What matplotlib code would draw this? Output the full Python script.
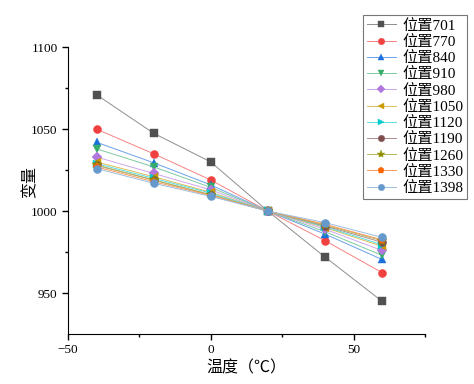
import matplotlib
matplotlib.use('Agg')
import matplotlib.pyplot as plt
from matplotlib.colors import to_rgb

plt.rcParams['font.family'] = ['Liberation Serif', 'Noto Sans CJK SC']

温度 = [-40, -20, 0, 20, 40, 60]
位置 = ['位置701', '位置770', '位置840', '位置910', '位置980', '位置1050',
      '位置1120', '位置1190', '位置1260', '位置1330', '位置1398']
数据 = [
    [1071, 1047.5, 1030, 1000, 972, 945],
    [1050, 1035, 1019, 1000, 982, 962.5],
    [1042, 1029.5, 1016, 1000, 986, 970.5],
    [1038, 1027, 1014.5, 1000, 987.5, 973],
    [1033, 1023, 1013, 1000, 989, 976],
    [1030, 1021, 1011.5, 1000, 990, 978.5],
    [1029, 1020, 1011, 1000, 990.5, 979.5],
    [1028, 1019, 1010, 1000, 991, 981],
    [1028, 1019, 1010, 1000, 991.5, 982],
    [1027, 1018, 1009.5, 1000, 992, 982.5],
    [1026, 1017, 1009, 1000, 993, 984],
]
颜色 = ['#515151', '#F14040', '#1A6FDF', '#37AD6B', '#B177DE', '#CC9900',
      '#00CBCC', '#7D4E4E', '#8E8E00', '#FB6501', '#6699CC']
标记 = ['s', 'o', '^', 'v', 'D', '<', '>', 'o', '*', 'p', 'o']


def 变浅(c, k=0.35):
    r, g, b = to_rgb(c)
    return (r + (1 - r) * k, g + (1 - g) * k, b + (1 - b) * k)


fig = plt.figure(figsize=(4.74, 3.84), dpi=100)
ax = fig.add_axes([0.1435, 0.130, 0.753, 0.747])

for y, lab, c, m in zip(数据, 位置, 颜色, 标记):
    ms = 4.8 if m == 'D' else 5.8
    if m == '*':
        ms = 7.5
    ax.plot(温度, y, color=变浅(c), lw=0.7, marker=m, ms=ms,
            markerfacecolor=c, markeredgecolor=c, markeredgewidth=0.3,
            label=lab)

ax.set_xlim(-50, 75)
ax.set_ylim(925, 1100)
ax.set_xticks([-50, 0, 50])
ax.set_xticks([-25, 25, 75], minor=True)
ax.set_yticks([950, 1000, 1050, 1100])
ax.set_yticks([975, 1025, 1075], minor=True)
ax.spines['top'].set_visible(False)
ax.spines['right'].set_visible(False)
ax.tick_params(axis='both', which='major', labelsize=9.5, length=4, width=1,
               direction='out')
ax.tick_params(axis='both', which='minor', length=2, width=1, direction='out')
ax.set_xticklabels(['−50', '0', '50'])

ax.set_xlabel('温度（℃）', fontsize=11.5, labelpad=3)
ax.set_ylabel('变量', fontsize=11.5)
ax.yaxis.set_label_coords(-0.084, 0.53)

leg = fig.legend(loc='upper left', bbox_to_anchor=(363 / 474, 1 - 15 / 384),
                 fontsize=11, frameon=True, fancybox=False, edgecolor='#555555',
                 labelspacing=0.15, handlelength=1.9, handletextpad=0.4,
                 borderpad=0.25, borderaxespad=0, markerscale=0.8)
leg.get_frame().set_linewidth(0.8)

fig.savefig('out.png', dpi=100)
